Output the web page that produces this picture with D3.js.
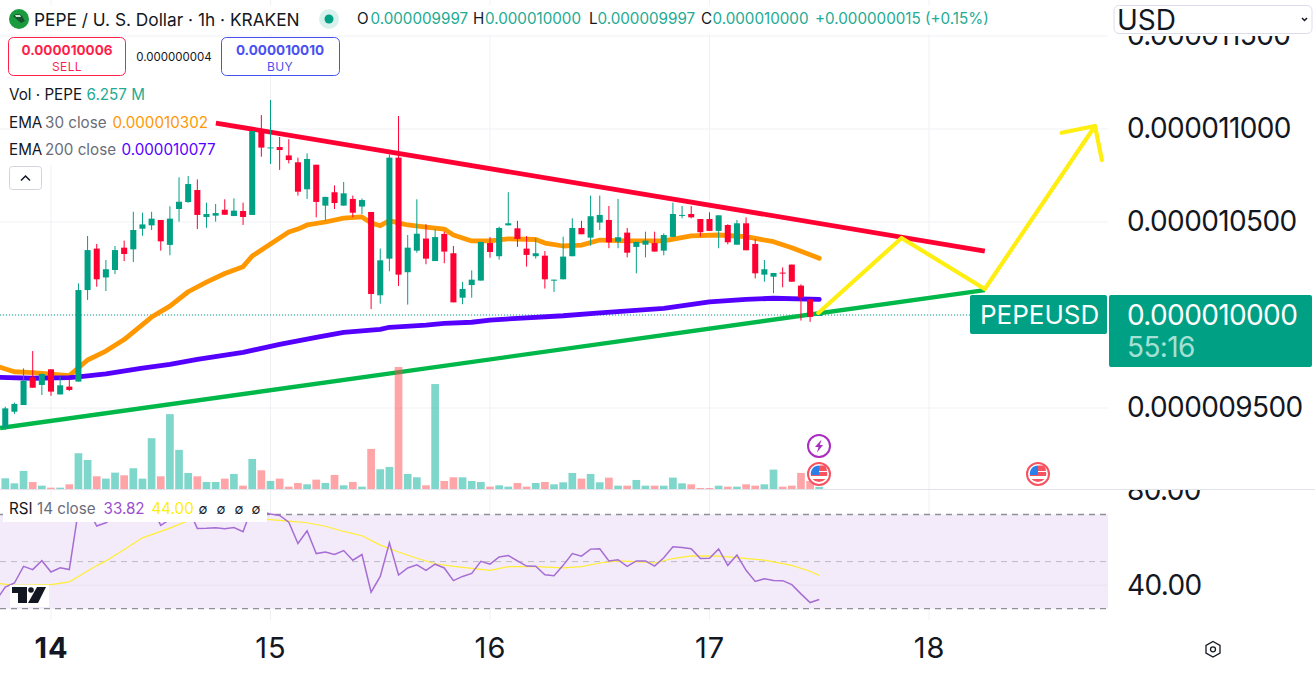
<!DOCTYPE html>
<html>

<head>
  <meta charset="utf-8">
  <script src="https://unpkg.com/d3@7/dist/d3.min.js"></script>
  <style>
    html, body { margin: 0; padding: 0; background: #fff; overflow: hidden; }
    text { font-family: Inter, "Noto Sans", sans-serif; }
  </style>
</head>
<title>PEPE / U. S. Dollar</title>

<body>
  <div id="svgcontainer"></div>
  <script>

    var width = 1315, height = 677;

    // prices are in billionths of a dollar, 10000 = 0.000010000
    // hours are counted from the start of the 14th, first candle is hour -6
    var firstHour = -6;
    var opens = [9420,
      9391, 9480, 9516, 9665, 9624, 9708, 9573, 9615, 9642, 10134,
      10357, 10202, 10242, 10362, 10353, 10464, 10482, 10511, 10377, 10570,
      10607, 10672, 10527, 10534, 10566, 10532, 10559, 10538, 10989, 10896,
      10903, 10858, 10821, 10676, 10808, 10588, 10660, 10588, 10624, 10583,
      10554, 10106, 10303, 10846, 10230, 10346, 10411, 10290, 10436, 10332,
      10093, 10161, 10185, 10387, 10316, 10482, 10466, 10357, 10316, 10319,
      10187, 10192, 10316, 10468, 10416, 10497, 10511, 10394, 10443, 10366,
      10378, 10387, 10346, 10420, 10534, 10543, 10516, 10516, 10452, 10484,
      10378, 10493, 10382, 10217, 10206, 10228, 10271, 10158, 10084, 9997];
    var highs = [9430,
      9507, 9529, 9713, 9806, 9686, 9708, 9668, 9654, 10170, 10425,
      10382, 10296, 10371, 10400, 10555, 10550, 10555, 10511, 10584, 10740,
      10747, 10729, 10604, 10597, 10622, 10627, 10604, 10989, 11075, 11156,
      10957, 10945, 10846, 10869, 10808, 10635, 10697, 10715, 10642, 10626,
      10554, 10357, 10864, 11070, 10430, 10622, 10488, 10461, 10448, 10371,
      10178, 10240, 10393, 10419, 10475, 10660, 10506, 10425, 10412, 10344,
      10190, 10421, 10520, 10506, 10642, 10642, 10586, 10624, 10468, 10393,
      10448, 10448, 10439, 10604, 10586, 10586, 10516, 10552, 10536, 10488,
      10511, 10525, 10407, 10296, 10226, 10256, 10271, 10165, 10084, 10000];
    var lows = [9380,
      9382, 9468, 9516, 9609, 9570, 9566, 9573, 9591, 9642, 10081,
      10152, 10129, 10220, 10290, 10285, 10426, 10457, 10346, 10321, 10502,
      10604, 10462, 10469, 10502, 10539, 10532, 10484, 10538, 10851, 10812,
      10780, 10815, 10642, 10624, 10525, 10507, 10570, 10588, 10525, 10543,
      10032, 10061, 10235, 10156, 10056, 10335, 10273, 10290, 10278, 10068,
      10058, 10093, 10185, 10308, 10298, 10482, 10366, 10260, 10303, 10142,
      10124, 10192, 10316, 10434, 10373, 10457, 10359, 10359, 10310, 10224,
      10310, 10341, 10321, 10420, 10520, 10520, 10421, 10452, 10359, 10380,
      10378, 10348, 10197, 10179, 10117, 10149, 10179, 9970, 9963, 9997];
    var closes = [9395,
      9498, 9522, 9647, 9609, 9683, 9588, 9622, 9597, 10134, 10349,
      10192, 10246, 10349, 10328, 10457, 10487, 10518, 10396, 10518, 10609,
      10704, 10538, 10543, 10548, 10539, 10561, 10527, 10989, 10900, 10901,
      10887, 10833, 10663, 10839, 10608, 10635, 10602, 10654, 10550, 10618,
      10113, 10294, 10846, 10217, 10362, 10437, 10303, 10419, 10341, 10068,
      10140, 10190, 10393, 10339, 10468, 10493, 10409, 10323, 10332, 10192,
      10190, 10314, 10468, 10434, 10531, 10538, 10391, 10418, 10335, 10393,
      10400, 10341, 10430, 10543, 10538, 10525, 10445, 10452, 10536, 10391,
      10493, 10348, 10224, 10246, 10226, 10224, 10179, 10095, 9990, 10000];

    // volume in millions of PEPE
    var volumes = [90,
      32, 17, 54, 21, 10, 4, 4, 14, 107, 87,
      38, 31, 49, 41, 62, 31, 152, 38, 224, 117,
      48, 38, 21, 21, 31, 45, 10, 90, 56, 24,
      31, 7, 18, 14, 28, 18, 42, 11, 21, 7,
      120, 59, 66, 365, 45, 35, 11, 314, 24, 35,
      35, 24, 21, 7, 11, 7, 18, 7, 18, 21,
      14, 20, 48, 31, 45, 20, 34, 10, 10, 27,
      10, 10, 10, 34, 17, 14, 3, 3, 10, 7,
      7, 14, 10, 14, 58, 7, 10, 48, 24, 6.257];

    var ema30Hours = [-6, -4, -2, 2, 4, 6, 8, 11, 13, 15, 17, 19, 21, 22, 24, 25, 26, 27, 28, 30, 32, 34, 35, 36, 37, 38, 39, 41, 43, 44, 46, 48, 50, 53, 54, 56, 58, 60, 63, 67, 70, 73, 76, 79, 81, 84];
    var ema30Values = [9726, 9695, 9690, 9674, 9758, 9806, 9868, 9989, 10048, 10125, 10177, 10223, 10260, 10317, 10382, 10414, 10446, 10462, 10484, 10500, 10521, 10527, 10495, 10480, 10507, 10495, 10484, 10473, 10462, 10430, 10398, 10399, 10409, 10406, 10387, 10371, 10376, 10403, 10398, 10399, 10425, 10430, 10421, 10394, 10362, 10305];
    var ema200Hours = [-6, -2, 2, 3, 6, 10, 13, 16, 21, 25, 29, 32, 36, 37, 41, 43, 46, 48, 51, 56, 60, 67, 72, 76, 79, 84];
    var ema200Values = [9665, 9660, 9663, 9667, 9683, 9715, 9735, 9762, 9799, 9842, 9880, 9907, 9923, 9934, 9946, 9955, 9961, 9973, 9982, 9996, 10012, 10036, 10070, 10084, 10090, 10084];

    // trend lines and the hand drawn arrow, as hour / price pairs
    var resistHours = [18.03, 102.1], resistPrices = [11032, 10344];
    var supportHours = [-5.57, 102.1], supportPrices = [9392, 10134];
    var arrowHours = [83.9, 93, 102.1, 114.15], arrowPrices = [10011, 10414, 10140, 11016];
    var arrowHeadHours = [110.5, 114.15, 114.9], arrowHeadPrices = [10980, 11016, 10833];

    var rsiValues = [33.5,
      39.2, 40.9, 48.0, 46.6, 50.4, 45.6, 47.4, 46.6, 71.9, 72.6,
      65.1, 66.5, 69.1, 69.8, 71.2, 72.0, 73.3, 65.4, 67.9, 70.2,
      72.6, 64.1, 64.2, 64.4, 64.0, 64.5, 62.7, 73.3, 71.2, 70.2,
      69.6, 66.7, 57.7, 63.1, 53.4, 54.1, 53.0, 54.7, 50.6, 53.0,
      37.0, 43.7, 58.0, 44.3, 47.3, 48.6, 46.3, 48.9, 47.3, 41.9,
      43.7, 45.0, 50.1, 48.9, 52.0, 52.6, 50.3, 48.1, 48.0, 44.4,
      44.0, 48.4, 53.4, 52.3, 55.3, 55.4, 50.3, 50.8, 48.0, 50.3,
      50.3, 48.1, 51.6, 56.3, 56.0, 55.5, 51.3, 51.4, 55.4, 48.4,
      52.8, 46.3, 41.6, 42.7, 42.0, 41.9, 40.2, 36.3, 32.6, 33.9];
    var rsiMaHours = [-6, -4, -2, 0, 2, 3, 5, 6, 8, 10, 13, 15, 19, 24, 26, 28, 30, 32, 34, 36, 38, 40, 42, 44, 46, 48, 50, 53, 56, 58, 60, 62, 65, 66, 68, 70, 73, 75, 78, 81, 83, 84];
    var rsiMaValues = [40.9, 39.9, 40, 40.2, 41.4, 43.7, 48.3, 50.3, 55.1, 60.1, 64.2, 67.4, 69.1, 67.8, 67.2, 66.5, 65, 62.8, 61, 57, 54.1, 51.4, 49.1, 48, 47.1, 46.3, 47.9, 47.9, 47.3, 47.9, 49.4, 50.3, 49.8, 49.4, 51.3, 52.4, 52.3, 51.7, 50.6, 48.4, 45.9, 44.1];

    var dayHours = [0, 24, 48, 72, 96];
    var dayLabels = ["14", "15", "16", "17", "18"];
    var priceTicks = [9500, 10500, 11000, 11500];
    var rsiTicks = [40, 80];
    var rsiBands = [30, 50, 70];

    var upColor = "#00a085", downColor = "#ff0033";
    var volUpColor = "#00ad97", volDownColor = "#ff4a4f";
    var textDark = "#131722", textGrey = "#6a6d78", textTeal = "#22ab94";

    var x = d3.scaleLinear().domain([0, 96]).range([51, 929]);
    var yPrice = d3.scaleLinear().domain([9500, 11000]).range([408, 129]);
    var yVol = d3.scaleLinear().domain([0, 365]).range([489, 367]);
    var yRsi = d3.scaleLinear().domain([30, 70]).range([608.7, 514.5]);

    function priceText(p) {
      return "0." + String(Math.round(p)).padStart(9, "0");
    }

    function pairLine(hours, values, scale) {
      return d3.line().x(function (d, i) { return x(hours[i]); }).y(function (d) { return scale(d); })(values);
    }

    var hours = opens.map(function (d, i) { return firstHour + i; });

    var svg = d3.select("#svgcontainer").append("svg")
      .attr("width", width).attr("height", height)
      .style("display", "block");

    var defs = svg.append("defs");
    defs.append("clipPath").attr("id", "priceClip").append("rect")
      .attr("x", 1108).attr("y", 36).attr("width", 207).attr("height", 453);
    defs.append("clipPath").attr("id", "rsiClip").append("rect")
      .attr("x", 1108).attr("y", 490).attr("width", 207).attr("height", 130);

    // vertical grid first, legend block covers it
    svg.selectAll(".vgrid").data(dayHours).enter().append("line")
      .attr("x1", x).attr("x2", x).attr("y1", 0).attr("y2", 620)
      .attr("stroke", "#f0f1f5");
    svg.append("rect").attr("x", 0).attr("y", 5).attr("width", 1000).attr("height", 29).attr("fill", "#fff");
    svg.append("rect").attr("x", 3).attr("y", 36).attr("width", 212).attr("height", 129).attr("fill", "#fff");

    // horizontal grid
    svg.selectAll(".hgrid").data([9500, 10000, 10500, 11000, 11500]).enter().append("line")
      .attr("x1", 0).attr("x2", 1108).attr("y1", yPrice).attr("y2", yPrice)
      .attr("stroke", "#f0f1f5");

    // rsi pane
    svg.append("rect").attr("x", 0).attr("y", yRsi(70)).attr("width", 1108)
      .attr("height", yRsi(30) - yRsi(70)).attr("fill", "#f3ebf9");
    svg.append("line").attr("x1", 0).attr("x2", 1108).attr("y1", yRsi(40)).attr("y2", yRsi(40))
      .attr("stroke", "#e9e3ee");
    svg.selectAll(".band").data(rsiBands).enter().append("line")
      .attr("x1", 0).attr("x2", 1108).attr("y1", yRsi).attr("y2", yRsi)
      .attr("stroke", function (d) { return d == 50 ? "#bcbcc4" : "#8f9099"; })
      .attr("stroke-width", function (d) { return d == 50 ? 1 : 1.3; })
      .attr("stroke-dasharray", "6 5");
    svg.append("path").attr("d", pairLine(rsiMaHours, rsiMaValues, yRsi))
      .attr("fill", "none").attr("stroke", "#ffee33").attr("stroke-width", 1.2);
    svg.append("path").attr("d", pairLine(hours, rsiValues, yRsi))
      .attr("fill", "none").attr("stroke", "#a66dd4").attr("stroke-width", 1.5);

    // pane separator
    svg.append("line").attr("x1", 0).attr("x2", width).attr("y1", 489.5).attr("y2", 489.5)
      .attr("stroke", "#e0e3eb");

    // price line
    svg.append("line").attr("x1", 0).attr("x2", 970).attr("y1", yPrice(10000)).attr("y2", yPrice(10000))
      .attr("stroke", upColor).attr("stroke-dasharray", "1 2");

    // trend lines
    svg.append("path").attr("d", pairLine(resistHours, resistPrices, yPrice))
      .attr("fill", "none").attr("stroke", "#ff0033").attr("stroke-width", 4.8);
    svg.append("path").attr("d", pairLine(supportHours, supportPrices, yPrice))
      .attr("fill", "none").attr("stroke", "#00b84a").attr("stroke-width", 4.4);

    // moving averages
    svg.append("path").attr("d", pairLine(ema30Hours, ema30Values, yPrice))
      .attr("fill", "none").attr("stroke", "#ff9800").attr("stroke-width", 4.8)
      .attr("stroke-linecap", "round").attr("stroke-linejoin", "round");
    svg.append("path").attr("d", pairLine(ema200Hours, ema200Values, yPrice))
      .attr("fill", "none").attr("stroke", "#5500ff").attr("stroke-width", 4.8)
      .attr("stroke-linecap", "round").attr("stroke-linejoin", "round");

    // yellow arrow
    svg.append("path").attr("d", pairLine(arrowHours, arrowPrices, yPrice))
      .attr("fill", "none").attr("stroke", "#ffee11").attr("stroke-width", 4.2)
      .attr("stroke-linecap", "round").attr("stroke-linejoin", "round");
    svg.append("path").attr("d", pairLine(arrowHeadHours, arrowHeadPrices, yPrice))
      .attr("fill", "none").attr("stroke", "#ffee11").attr("stroke-width", 4.2)
      .attr("stroke-linecap", "round").attr("stroke-linejoin", "round");

    // volume
    var step = x(1) - x(0);
    svg.selectAll(".vol").data(hours).enter().append("rect")
      .attr("x", function (d) { return x(d) - step * 0.42; })
      .attr("width", step * 0.84)
      .attr("y", function (d, i) { return yVol(volumes[i]); })
      .attr("height", function (d, i) { return 489 - yVol(volumes[i]); })
      .attr("fill", function (d, i) { return closes[i] >= opens[i] ? volUpColor : volDownColor; })
      .attr("fill-opacity", 0.5);

    // candles
    svg.selectAll(".wick").data(hours).enter().append("line")
      .attr("x1", x).attr("x2", x)
      .attr("y1", function (d, i) { return yPrice(highs[i]); })
      .attr("y2", function (d, i) { return yPrice(lows[i]); })
      .attr("stroke", function (d, i) { return closes[i] >= opens[i] ? upColor : downColor; })
      .attr("stroke-width", 1);
    svg.selectAll(".body").data(hours).enter().append("rect")
      .attr("x", function (d) { return x(d) - step * 0.33; })
      .attr("width", step * 0.66)
      .attr("y", function (d, i) { return yPrice(Math.max(opens[i], closes[i])); })
      .attr("height", function (d, i) { return Math.max(1, Math.abs(yPrice(opens[i]) - yPrice(closes[i]))); })
      .attr("fill", function (d, i) { return closes[i] >= opens[i] ? upColor : downColor; });

    // price axis, top label is cut by the pane edge like on the site
    var priceAxis = svg.append("g").attr("clip-path", "url(#priceClip)").append("g")
      .attr("transform", "translate(1108,0)")
      .call(d3.axisRight(yPrice).tickValues(priceTicks).tickSize(0).tickPadding(19).tickFormat(priceText));
    priceAxis.select(".domain").remove();
    priceAxis.selectAll("text").style("font-family", "Inter").style("font-size", "28px")
      .style("letter-spacing", "-0.62px").attr("fill", textDark);

    var rsiAxis = svg.append("g").attr("clip-path", "url(#rsiClip)").append("g")
      .attr("transform", "translate(1108,0)")
      .call(d3.axisRight(yRsi).tickValues(rsiTicks).tickSize(0).tickPadding(19).tickFormat(d3.format(".2f")));
    rsiAxis.select(".domain").remove();
    rsiAxis.selectAll("text").style("font-family", "Inter").style("font-size", "28px")
      .style("letter-spacing", "-0.62px").attr("fill", textDark);

    var timeAxis = svg.append("g").attr("transform", "translate(0,620)")
      .call(d3.axisBottom(x).tickValues(dayHours).tickSize(0).tickPadding(17)
        .tickFormat(function (d, i) { return dayLabels[i]; }));
    timeAxis.select(".domain").remove();
    timeAxis.selectAll("text").style("font-family", "Inter").style("font-size", "29px").attr("fill", textDark)
      .style("letter-spacing", "1px")
      .style("font-weight", function (d) { return d == 0 ? 700 : 400; });

    // last price tags
    svg.append("rect").attr("x", 970).attr("y", 295).attr("width", 137).attr("height", 39).attr("rx", 2).attr("fill", upColor);
    svg.append("text").attr("x", 980).attr("y", 324).attr("fill", "#fff").style("font-size", "26px").text("PEPEUSD");
    svg.append("rect").attr("x", 1109).attr("y", 295).attr("width", 203).attr("height", 72).attr("rx", 2).attr("fill", upColor);
    svg.append("text").attr("x", 1127).attr("y", 325).attr("fill", "#fff").style("font-size", "28px")
      .style("letter-spacing", "-0.62px").text(priceText(closes[closes.length - 1]));
    svg.append("text").attr("x", 1127).attr("y", 357).attr("fill", "#a5e0d5").style("font-size", "28px")
      .style("letter-spacing", "-0.62px").text("55:16");

    // event markers
    function flag(cx, cy) {
      var g = svg.append("g").attr("transform", "translate(" + cx + "," + cy + ")");
      g.append("circle").attr("r", 11).attr("fill", "#fff").attr("stroke", "#f7525f").attr("stroke-width", 2);
      g.append("path").attr("d", "M-8,-2H8A8.2,8.2 0 0 1 8,2H-8A8.2,8.2 0 0 1 -8,-2Z").attr("fill", "#f7525f");
      g.append("path").attr("d", "M-6.5,5H6.5A8.5,8.5 0 0 1 -6.5,5Z").attr("fill", "#f7525f");
      g.append("path").attr("d", "M0,-8.5H6A8.5,8.5 0 0 1 8,-3H0Z").attr("fill", "#f7525f");
      g.append("path").attr("d", "M-8,-2.5A8.5,8.5 0 0 1 0,-8.5V1H-8Z").attr("fill", "#2a7fe8");
    }
    var bolt = svg.append("g").attr("transform", "translate(819,446)");
    bolt.append("circle").attr("r", 11).attr("fill", "#fff").attr("stroke", "#ab2cc0").attr("stroke-width", 2);
    bolt.append("path").attr("d", "M2.5,-6.5L-4,1H-0.5L-2,6.5L4,-1H0.8Z").attr("fill", "#ab2cc0");
    flag(819, 474);
    flag(1038, 474);

    // header
    var logo = svg.append("g").attr("transform", "translate(19,19)");
    logo.append("circle").attr("r", 10).attr("fill", "#1a9c3e");
    logo.append("path").attr("d", "M-6,-3Q-1,-7 3,-3L6,2L2,4Z").attr("fill", "#14532d");
    logo.append("path").attr("d", "M-4,-4H1L2,-2H-3Z").attr("fill", "#cfe8d0");
    svg.append("text").attr("x", 34).attr("y", 26).attr("fill", textDark).style("font-size", "17.3px")
      .text("PEPE / U. S. Dollar · 1h · KRAKEN");
    svg.append("circle").attr("cx", 329).attr("cy", 19).attr("r", 10).attr("fill", "#d9f1ec");
    svg.append("circle").attr("cx", 329).attr("cy", 19).attr("r", 4.5).attr("fill", upColor);

    // a row of text pieces, each piece is [text, colour, x]
    function textRow(yy, size, parts) {
      var t = svg.append("text").attr("y", yy).style("font-size", size);
      parts.forEach(function (p) {
        t.append("tspan").attr("x", p[2]).attr("fill", p[1]).text(p[0]);
      });
    }

    textRow(24, "15.2px", [
      ["O", textDark, 357], [priceText(9997), textTeal, 370.5],
      ["H", textDark, 473], [priceText(10000), textTeal, 485],
      ["L", textDark, 589], [priceText(9997), textTeal, 597.5],
      ["C", textDark, 701], [priceText(10000), textTeal, 712.5],
      ["+0.000000015 (+0.15%)", textTeal, 815]
    ]);

    // sell and buy boxes
    svg.append("rect").attr("x", 8.5).attr("y", 37.5).attr("width", 117).attr("height", 38).attr("rx", 5)
      .attr("fill", "#fff").attr("stroke", "#ff1f4b");
    svg.append("text").attr("x", 67).attr("y", 55).attr("text-anchor", "middle").attr("fill", "#ff1f4b")
      .style("font-size", "13.5px").style("font-weight", 700).text("0.000010006");
    svg.append("text").attr("x", 67).attr("y", 70.5).attr("text-anchor", "middle").attr("fill", "#ff1f4b")
      .style("font-size", "12px").style("letter-spacing", "0.4px").text("SELL");
    svg.append("text").attr("x", 174).attr("y", 61).attr("text-anchor", "middle").attr("fill", textDark)
      .style("font-size", "11.5px").text("0.000000004");
    svg.append("rect").attr("x", 221.5).attr("y", 37.5).attr("width", 118).attr("height", 38).attr("rx", 5)
      .attr("fill", "#fff").attr("stroke", "#4a50f0");
    svg.append("text").attr("x", 280).attr("y", 55).attr("text-anchor", "middle").attr("fill", "#4a50f0")
      .style("font-size", "13.5px").style("font-weight", 700).text("0.000010010");
    svg.append("text").attr("x", 280).attr("y", 70.5).attr("text-anchor", "middle").attr("fill", "#4a50f0")
      .style("font-size", "12px").style("letter-spacing", "0.4px").text("BUY");

    // legend rows
    textRow(100, "15.2px", [["Vol · PEPE", textDark, 9], ["6.257 M", textTeal, 86.5]]);
    textRow(128, "15.2px", [["EMA", textDark, 9], ["30 close", textGrey, 45], ["0.000010302", "#ff9800", 112.5]]);
    textRow(155, "15.2px", [["EMA", textDark, 9], ["200 close", textGrey, 45], ["0.000010077", "#5500ff", 121.5]]);

    svg.append("rect").attr("x", 9.5).attr("y", 166.5).attr("width", 32).attr("height", 23).attr("rx", 3)
      .attr("fill", "#fff").attr("stroke", "#d1d4dc");
    svg.append("path").attr("d", "M21,180.5L25.5,176L30,180.5").attr("fill", "none").attr("stroke", textDark).attr("stroke-width", 1.5);

    // rsi legend
    svg.append("rect").attr("x", 3).attr("y", 497).attr("width", 264).attr("height", 25).attr("fill", "#fff");
    textRow(514, "15.2px", [["RSI", textDark, 9], ["14 close", textGrey, 37], ["33.82", "#9b4fd0", 103.5], ["44.00", "#ffee11", 151.5]]);
    [203, 221, 239, 256].forEach(function (px) {
      svg.append("text").attr("x", px).attr("y", 514).attr("text-anchor", "middle").attr("fill", textDark)
        .style("font-size", "13px").text("∅");
    });

    // tradingview mark
    svg.append("rect").attr("x", 10).attr("y", 585).attr("width", 39).attr("height", 22).attr("fill", "#fff");
    svg.append("path").attr("d", "M12,587H27V603H18V593H12Z").attr("fill", textDark);
    svg.append("circle").attr("cx", 31).attr("cy", 590).attr("r", 2.8).attr("fill", textDark);
    svg.append("path").attr("d", "M37,587H46L38,603H28Z").attr("fill", textDark);

    // currency select
    svg.append("rect").attr("x", 1114).attr("y", 5.5).attr("width", 198).attr("height", 28).attr("rx", 5)
      .attr("fill", "#fff").attr("stroke", "#dcdcec");
    svg.append("text").attr("x", 1117).attr("y", 30).attr("fill", textDark).style("font-size", "28px").text("USD");
    svg.append("path").attr("d", "M1302,18L1304.5,20.5L1307,18").attr("fill", "none").attr("stroke", textDark).attr("stroke-width", 1.5);

    // settings gear
    svg.append("path").attr("d", "M1213,641.5L1220,645.5V653L1213,657L1206,653V645.5Z")
      .attr("fill", "none").attr("stroke", textDark).attr("stroke-width", 1.3);
    svg.append("circle").attr("cx", 1213).attr("cy", 649.3).attr("r", 2.5)
      .attr("fill", "none").attr("stroke", textDark).attr("stroke-width", 1.3);
  </script>

</body>

</html>
